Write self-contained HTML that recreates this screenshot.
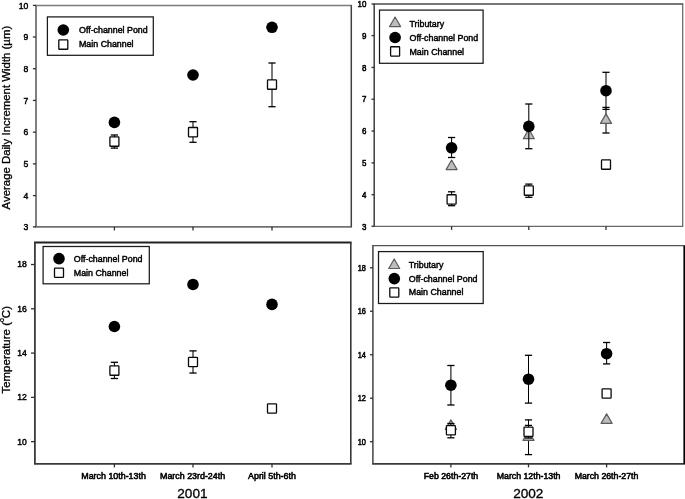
<!DOCTYPE html>
<html><head><meta charset="utf-8"><title>Figure</title>
<style>
html,body{margin:0;padding:0;background:#fff;}
svg{display:block;font-family:"Liberation Sans", Arial, sans-serif;fill:#000;filter:blur(0.35px);}
text{stroke:#000;stroke-width:0.45px;stroke-linejoin:round;}
text.big{stroke-width:0.32px;}
text.tk{stroke-width:0.55px;}
</style></head>
<body>
<svg width="685" height="499" viewBox="0 0 685 499">
<rect x="0" y="0" width="685" height="499" fill="#fff" stroke="none"/>
<line x1="35.20" y1="5.40" x2="352.05" y2="5.40" stroke="#7c7c7c" stroke-width="1.5"/>
<line x1="35.20" y1="226.85" x2="352.05" y2="226.85" stroke="#707070" stroke-width="1.6"/>
<line x1="36.00" y1="5.40" x2="36.00" y2="226.85" stroke="#606060" stroke-width="1.6"/>
<line x1="351.30" y1="5.40" x2="351.30" y2="226.85" stroke="#404040" stroke-width="1.5"/>
<line x1="32.90" y1="226.85" x2="36.00" y2="226.85" stroke="#303030" stroke-width="1.3"/>
<text x="28.40" y="229.95" font-size="8.6" text-anchor="end">3</text>
<line x1="32.90" y1="195.60" x2="36.00" y2="195.60" stroke="#303030" stroke-width="1.3"/>
<text x="28.40" y="198.70" font-size="8.6" text-anchor="end">4</text>
<line x1="32.90" y1="163.88" x2="36.00" y2="163.88" stroke="#303030" stroke-width="1.3"/>
<text x="28.40" y="166.98" font-size="8.6" text-anchor="end">5</text>
<line x1="32.90" y1="132.16" x2="36.00" y2="132.16" stroke="#303030" stroke-width="1.3"/>
<text x="28.40" y="135.26" font-size="8.6" text-anchor="end">6</text>
<line x1="32.90" y1="100.44" x2="36.00" y2="100.44" stroke="#303030" stroke-width="1.3"/>
<text x="28.40" y="103.54" font-size="8.6" text-anchor="end">7</text>
<line x1="32.90" y1="68.72" x2="36.00" y2="68.72" stroke="#303030" stroke-width="1.3"/>
<text x="28.40" y="71.82" font-size="8.6" text-anchor="end">8</text>
<line x1="32.90" y1="37.00" x2="36.00" y2="37.00" stroke="#303030" stroke-width="1.3"/>
<text x="28.40" y="40.10" font-size="8.6" text-anchor="end">9</text>
<line x1="32.90" y1="5.40" x2="36.00" y2="5.40" stroke="#303030" stroke-width="1.3"/>
<text x="28.40" y="8.50" font-size="8.6" text-anchor="end">10</text>
<line x1="114.40" y1="226.85" x2="114.40" y2="230.45" stroke="#303030" stroke-width="1.3"/>
<line x1="193.00" y1="226.85" x2="193.00" y2="230.45" stroke="#303030" stroke-width="1.3"/>
<line x1="272.00" y1="226.85" x2="272.00" y2="230.45" stroke="#303030" stroke-width="1.3"/>
<rect x="47.40" y="16.90" width="105.90" height="38.40" fill="none" stroke="#1a1a1a" stroke-width="1.25" />
<circle cx="63.30" cy="30.00" r="5.8" fill="#000"/>
<rect x="58.80" y="39.95" width="9.00" height="9.30" fill="#fff" stroke="#0a0a0a" stroke-width="1.3" rx="0.6"/>
<text x="79.00" y="33.00" font-size="8.85" text-anchor="start">Off-channel Pond</text>
<text x="79.00" y="47.30" font-size="8.85" text-anchor="start">Main Channel</text>
<line x1="114.40" y1="135.00" x2="114.40" y2="148.10" stroke="#000" stroke-width="1.05"/>
<line x1="110.80" y1="135.00" x2="118.00" y2="135.00" stroke="#000" stroke-width="1.3"/>
<line x1="110.80" y1="148.10" x2="118.00" y2="148.10" stroke="#000" stroke-width="1.3"/>
<rect x="109.90" y="136.95" width="9.00" height="9.30" fill="#fff" stroke="#0a0a0a" stroke-width="1.3" rx="0.6"/>
<line x1="193.00" y1="121.69" x2="193.00" y2="142.31" stroke="#000" stroke-width="1.05"/>
<line x1="189.40" y1="121.69" x2="196.60" y2="121.69" stroke="#000" stroke-width="1.3"/>
<line x1="189.40" y1="142.31" x2="196.60" y2="142.31" stroke="#000" stroke-width="1.3"/>
<rect x="188.50" y="127.51" width="9.00" height="9.30" fill="#fff" stroke="#0a0a0a" stroke-width="1.3" rx="0.6"/>
<line x1="272.00" y1="63.00" x2="272.00" y2="106.70" stroke="#000" stroke-width="1.05"/>
<line x1="268.40" y1="63.00" x2="275.60" y2="63.00" stroke="#000" stroke-width="1.3"/>
<line x1="268.40" y1="106.70" x2="275.60" y2="106.70" stroke="#000" stroke-width="1.3"/>
<rect x="267.50" y="79.95" width="9.00" height="9.30" fill="#fff" stroke="#0a0a0a" stroke-width="1.3" rx="0.6"/>
<circle cx="114.40" cy="122.40" r="5.8" fill="#000"/>
<circle cx="193.00" cy="75.00" r="5.8" fill="#000"/>
<circle cx="272.00" cy="27.30" r="5.8" fill="#000"/>
<line x1="373.40" y1="4.00" x2="683.33" y2="4.00" stroke="#4a4a4a" stroke-width="1.6"/>
<line x1="373.40" y1="226.30" x2="683.33" y2="226.30" stroke="#686868" stroke-width="1.25"/>
<line x1="374.20" y1="4.00" x2="374.20" y2="226.30" stroke="#484848" stroke-width="1.6"/>
<line x1="682.70" y1="4.00" x2="682.70" y2="226.30" stroke="#686868" stroke-width="1.25"/>
<line x1="371.50" y1="226.30" x2="374.20" y2="226.30" stroke="#303030" stroke-width="1.3"/>
<text transform="translate(366.50,229.50) scale(0.86,1)" font-size="9.3" text-anchor="end" class="tk">3</text>
<line x1="371.50" y1="194.70" x2="374.20" y2="194.70" stroke="#303030" stroke-width="1.3"/>
<text transform="translate(366.50,197.90) scale(0.86,1)" font-size="9.3" text-anchor="end" class="tk">4</text>
<line x1="371.50" y1="162.88" x2="374.20" y2="162.88" stroke="#303030" stroke-width="1.3"/>
<text transform="translate(366.50,166.08) scale(0.86,1)" font-size="9.3" text-anchor="end" class="tk">5</text>
<line x1="371.50" y1="131.06" x2="374.20" y2="131.06" stroke="#303030" stroke-width="1.3"/>
<text transform="translate(366.50,134.26) scale(0.86,1)" font-size="9.3" text-anchor="end" class="tk">6</text>
<line x1="371.50" y1="99.24" x2="374.20" y2="99.24" stroke="#303030" stroke-width="1.3"/>
<text transform="translate(366.50,102.44) scale(0.86,1)" font-size="9.3" text-anchor="end" class="tk">7</text>
<line x1="371.50" y1="67.42" x2="374.20" y2="67.42" stroke="#303030" stroke-width="1.3"/>
<text transform="translate(366.50,70.62) scale(0.86,1)" font-size="9.3" text-anchor="end" class="tk">8</text>
<line x1="371.50" y1="35.60" x2="374.20" y2="35.60" stroke="#303030" stroke-width="1.3"/>
<text transform="translate(366.50,38.80) scale(0.86,1)" font-size="9.3" text-anchor="end" class="tk">9</text>
<line x1="371.50" y1="4.00" x2="374.20" y2="4.00" stroke="#303030" stroke-width="1.3"/>
<text transform="translate(366.50,7.20) scale(0.86,1)" font-size="9.3" text-anchor="end" class="tk">10</text>
<line x1="451.60" y1="226.30" x2="451.60" y2="229.90" stroke="#303030" stroke-width="1.3"/>
<line x1="528.80" y1="226.30" x2="528.80" y2="229.90" stroke="#303030" stroke-width="1.3"/>
<line x1="606.00" y1="226.30" x2="606.00" y2="229.90" stroke="#303030" stroke-width="1.3"/>
<rect x="379.50" y="10.10" width="103.60" height="53.20" fill="none" stroke="#1a1a1a" stroke-width="1.25" />
<polygon points="395.10,17.05 389.60,26.58 400.60,26.58" fill="#bdbdbd" stroke="#5c5c5c" stroke-width="1.2" stroke-linejoin="round"/>
<circle cx="395.10" cy="37.50" r="5.8" fill="#000"/>
<rect x="390.60" y="46.75" width="9.00" height="9.30" fill="#fff" stroke="#0a0a0a" stroke-width="1.3" rx="0.6"/>
<text x="409.50" y="26.90" font-size="8.85" text-anchor="start">Tributary</text>
<text x="409.50" y="40.90" font-size="8.85" text-anchor="start">Off-channel Pond</text>
<text x="409.50" y="54.70" font-size="8.85" text-anchor="start">Main Channel</text>
<line x1="451.60" y1="191.80" x2="451.60" y2="205.70" stroke="#000" stroke-width="1.05"/>
<line x1="448.00" y1="191.80" x2="455.20" y2="191.80" stroke="#000" stroke-width="1.3"/>
<line x1="448.00" y1="205.70" x2="455.20" y2="205.70" stroke="#000" stroke-width="1.3"/>
<rect x="447.10" y="194.75" width="9.00" height="9.30" fill="#fff" stroke="#0a0a0a" stroke-width="1.3" rx="0.6"/>
<polygon points="451.60,160.05 446.10,169.58 457.10,169.58" fill="#bdbdbd" stroke="#5c5c5c" stroke-width="1.2" stroke-linejoin="round"/>
<line x1="451.60" y1="137.50" x2="451.60" y2="157.50" stroke="#000" stroke-width="1.05"/>
<line x1="448.00" y1="137.50" x2="455.20" y2="137.50" stroke="#000" stroke-width="1.3"/>
<line x1="448.00" y1="157.50" x2="455.20" y2="157.50" stroke="#000" stroke-width="1.3"/>
<circle cx="451.60" cy="147.80" r="5.8" fill="#000"/>
<line x1="528.80" y1="184.10" x2="528.80" y2="197.30" stroke="#000" stroke-width="1.05"/>
<line x1="525.20" y1="184.10" x2="532.40" y2="184.10" stroke="#000" stroke-width="1.3"/>
<line x1="525.20" y1="197.30" x2="532.40" y2="197.30" stroke="#000" stroke-width="1.3"/>
<rect x="524.30" y="185.95" width="9.00" height="9.30" fill="#fff" stroke="#0a0a0a" stroke-width="1.3" rx="0.6"/>
<polygon points="528.80,129.15 523.30,138.68 534.30,138.68" fill="#bdbdbd" stroke="#5c5c5c" stroke-width="1.2" stroke-linejoin="round"/>
<line x1="528.80" y1="104.00" x2="528.80" y2="148.70" stroke="#000" stroke-width="1.05"/>
<line x1="525.20" y1="104.00" x2="532.40" y2="104.00" stroke="#000" stroke-width="1.3"/>
<line x1="525.20" y1="148.70" x2="532.40" y2="148.70" stroke="#000" stroke-width="1.3"/>
<circle cx="528.80" cy="126.40" r="5.8" fill="#000"/>
<rect x="601.50" y="159.95" width="9.00" height="9.30" fill="#fff" stroke="#0a0a0a" stroke-width="1.3" rx="0.6"/>
<line x1="606.00" y1="107.40" x2="606.00" y2="133.00" stroke="#000" stroke-width="1.05"/>
<line x1="602.40" y1="107.40" x2="609.60" y2="107.40" stroke="#000" stroke-width="1.3"/>
<line x1="602.40" y1="133.00" x2="609.60" y2="133.00" stroke="#000" stroke-width="1.3"/>
<polygon points="606.00,113.85 600.50,123.38 611.50,123.38" fill="#bdbdbd" stroke="#5c5c5c" stroke-width="1.2" stroke-linejoin="round"/>
<line x1="606.00" y1="72.30" x2="606.00" y2="109.40" stroke="#000" stroke-width="1.05"/>
<line x1="602.40" y1="72.30" x2="609.60" y2="72.30" stroke="#000" stroke-width="1.3"/>
<line x1="602.40" y1="109.40" x2="609.60" y2="109.40" stroke="#000" stroke-width="1.3"/>
<circle cx="606.00" cy="90.70" r="5.8" fill="#000"/>
<line x1="34.00" y1="242.50" x2="351.60" y2="242.50" stroke="#222" stroke-width="1.8"/>
<line x1="34.00" y1="463.80" x2="351.60" y2="463.80" stroke="#3a3a3a" stroke-width="1.7"/>
<line x1="34.90" y1="242.50" x2="34.90" y2="463.80" stroke="#3a3a3a" stroke-width="1.8"/>
<line x1="350.80" y1="242.50" x2="350.80" y2="463.80" stroke="#383838" stroke-width="1.6"/>
<line x1="31.00" y1="441.65" x2="34.90" y2="441.65" stroke="#303030" stroke-width="1.3"/>
<text x="26.90" y="444.60" font-size="8.6" text-anchor="end">10</text>
<line x1="31.00" y1="397.37" x2="34.90" y2="397.37" stroke="#303030" stroke-width="1.3"/>
<text x="26.90" y="400.32" font-size="8.6" text-anchor="end">12</text>
<line x1="31.00" y1="353.09" x2="34.90" y2="353.09" stroke="#303030" stroke-width="1.3"/>
<text x="26.90" y="356.04" font-size="8.6" text-anchor="end">14</text>
<line x1="31.00" y1="308.81" x2="34.90" y2="308.81" stroke="#303030" stroke-width="1.3"/>
<text x="26.90" y="311.76" font-size="8.6" text-anchor="end">16</text>
<line x1="31.00" y1="264.53" x2="34.90" y2="264.53" stroke="#303030" stroke-width="1.3"/>
<text x="26.90" y="267.48" font-size="8.6" text-anchor="end">18</text>
<line x1="114.40" y1="463.80" x2="114.40" y2="467.40" stroke="#303030" stroke-width="1.3"/>
<line x1="193.00" y1="463.80" x2="193.00" y2="467.40" stroke="#303030" stroke-width="1.3"/>
<line x1="272.00" y1="463.80" x2="272.00" y2="467.40" stroke="#303030" stroke-width="1.3"/>
<rect x="43.10" y="246.50" width="106.20" height="37.30" fill="none" stroke="#1a1a1a" stroke-width="1.25" />
<circle cx="59.00" cy="258.60" r="5.8" fill="#000"/>
<rect x="54.50" y="268.05" width="9.00" height="9.30" fill="#fff" stroke="#0a0a0a" stroke-width="1.3" rx="0.6"/>
<text x="73.80" y="261.60" font-size="8.85" text-anchor="start">Off-channel Pond</text>
<text x="73.80" y="275.80" font-size="8.85" text-anchor="start">Main Channel</text>
<line x1="114.40" y1="362.30" x2="114.40" y2="378.50" stroke="#000" stroke-width="1.05"/>
<line x1="110.80" y1="362.30" x2="118.00" y2="362.30" stroke="#000" stroke-width="1.3"/>
<line x1="110.80" y1="378.50" x2="118.00" y2="378.50" stroke="#000" stroke-width="1.3"/>
<rect x="109.90" y="365.95" width="9.00" height="9.30" fill="#fff" stroke="#0a0a0a" stroke-width="1.3" rx="0.6"/>
<line x1="193.00" y1="350.88" x2="193.00" y2="373.02" stroke="#000" stroke-width="1.05"/>
<line x1="189.40" y1="350.88" x2="196.60" y2="350.88" stroke="#000" stroke-width="1.3"/>
<line x1="189.40" y1="373.02" x2="196.60" y2="373.02" stroke="#000" stroke-width="1.3"/>
<rect x="188.50" y="357.30" width="9.00" height="9.30" fill="#fff" stroke="#0a0a0a" stroke-width="1.3" rx="0.6"/>
<rect x="267.50" y="403.79" width="9.00" height="9.30" fill="#fff" stroke="#0a0a0a" stroke-width="1.3" rx="0.6"/>
<circle cx="114.40" cy="326.52" r="5.8" fill="#000"/>
<circle cx="193.00" cy="284.46" r="5.8" fill="#000"/>
<circle cx="272.00" cy="304.38" r="5.8" fill="#000"/>
<line x1="372.15" y1="245.70" x2="685.40" y2="245.70" stroke="#555" stroke-width="1.25"/>
<line x1="372.15" y1="463.80" x2="685.40" y2="463.80" stroke="#3a3a3a" stroke-width="1.7"/>
<line x1="372.90" y1="245.70" x2="372.90" y2="463.80" stroke="#444" stroke-width="1.5"/>
<line x1="684.40" y1="245.70" x2="684.40" y2="463.80" stroke="#000" stroke-width="2.0"/>
<line x1="370.00" y1="441.70" x2="372.90" y2="441.70" stroke="#303030" stroke-width="1.3"/>
<text transform="translate(365.90,444.80) scale(0.86,1)" font-size="8.6" text-anchor="end" class="tk">10</text>
<line x1="370.00" y1="398.22" x2="372.90" y2="398.22" stroke="#303030" stroke-width="1.3"/>
<text transform="translate(365.90,401.32) scale(0.86,1)" font-size="8.6" text-anchor="end" class="tk">12</text>
<line x1="370.00" y1="354.74" x2="372.90" y2="354.74" stroke="#303030" stroke-width="1.3"/>
<text transform="translate(365.90,357.84) scale(0.86,1)" font-size="8.6" text-anchor="end" class="tk">14</text>
<line x1="370.00" y1="311.26" x2="372.90" y2="311.26" stroke="#303030" stroke-width="1.3"/>
<text transform="translate(365.90,314.36) scale(0.86,1)" font-size="8.6" text-anchor="end" class="tk">16</text>
<line x1="370.00" y1="267.78" x2="372.90" y2="267.78" stroke="#303030" stroke-width="1.3"/>
<text transform="translate(365.90,270.88) scale(0.86,1)" font-size="8.6" text-anchor="end" class="tk">18</text>
<line x1="450.90" y1="463.80" x2="450.90" y2="467.40" stroke="#303030" stroke-width="1.3"/>
<line x1="528.50" y1="463.80" x2="528.50" y2="467.40" stroke="#303030" stroke-width="1.3"/>
<line x1="606.60" y1="463.80" x2="606.60" y2="467.40" stroke="#303030" stroke-width="1.3"/>
<rect x="378.50" y="251.60" width="104.70" height="51.90" fill="none" stroke="#1a1a1a" stroke-width="1.25" />
<polygon points="394.20,258.95 388.70,268.48 399.70,268.48" fill="#bdbdbd" stroke="#5c5c5c" stroke-width="1.2" stroke-linejoin="round"/>
<circle cx="394.30" cy="278.60" r="5.8" fill="#000"/>
<rect x="389.80" y="287.85" width="9.00" height="9.30" fill="#fff" stroke="#0a0a0a" stroke-width="1.3" rx="0.6"/>
<text x="408.80" y="268.30" font-size="8.85" text-anchor="start">Tributary</text>
<text x="408.80" y="282.20" font-size="8.85" text-anchor="start">Off-channel Pond</text>
<text x="408.80" y="294.70" font-size="8.85" text-anchor="start">Main Channel</text>
<polygon points="450.90,419.85 445.40,429.38 456.40,429.38" fill="#bdbdbd" stroke="#5c5c5c" stroke-width="1.2" stroke-linejoin="round"/>
<line x1="450.90" y1="423.50" x2="450.90" y2="437.80" stroke="#000" stroke-width="1.05"/>
<line x1="447.30" y1="423.50" x2="454.50" y2="423.50" stroke="#000" stroke-width="1.3"/>
<line x1="447.30" y1="437.80" x2="454.50" y2="437.80" stroke="#000" stroke-width="1.3"/>
<rect x="446.40" y="425.55" width="9.00" height="9.30" fill="#fff" stroke="#0a0a0a" stroke-width="1.3" rx="0.6"/>
<line x1="450.90" y1="365.50" x2="450.90" y2="405.00" stroke="#000" stroke-width="1.05"/>
<line x1="447.30" y1="365.50" x2="454.50" y2="365.50" stroke="#000" stroke-width="1.3"/>
<line x1="447.30" y1="405.00" x2="454.50" y2="405.00" stroke="#000" stroke-width="1.3"/>
<circle cx="450.90" cy="385.20" r="5.8" fill="#000"/>
<line x1="528.50" y1="419.90" x2="528.50" y2="454.60" stroke="#000" stroke-width="1.05"/>
<line x1="524.90" y1="419.90" x2="532.10" y2="419.90" stroke="#000" stroke-width="1.3"/>
<line x1="524.90" y1="454.60" x2="532.10" y2="454.60" stroke="#000" stroke-width="1.3"/>
<polygon points="528.50,430.85 523.00,440.38 534.00,440.38" fill="#bdbdbd" stroke="#5c5c5c" stroke-width="1.2" stroke-linejoin="round"/>
<line x1="528.50" y1="425.40" x2="528.50" y2="438.00" stroke="#000" stroke-width="1.05"/>
<line x1="524.90" y1="425.40" x2="532.10" y2="425.40" stroke="#000" stroke-width="1.3"/>
<line x1="524.90" y1="438.00" x2="532.10" y2="438.00" stroke="#000" stroke-width="1.3"/>
<rect x="524.00" y="427.05" width="9.00" height="9.30" fill="#fff" stroke="#0a0a0a" stroke-width="1.3" rx="0.6"/>
<line x1="528.50" y1="355.30" x2="528.50" y2="403.10" stroke="#000" stroke-width="1.05"/>
<line x1="524.90" y1="355.30" x2="532.10" y2="355.30" stroke="#000" stroke-width="1.3"/>
<line x1="524.90" y1="403.10" x2="532.10" y2="403.10" stroke="#000" stroke-width="1.3"/>
<circle cx="528.50" cy="379.20" r="5.8" fill="#000"/>
<polygon points="606.60,413.85 601.10,423.38 612.10,423.38" fill="#bdbdbd" stroke="#5c5c5c" stroke-width="1.2" stroke-linejoin="round"/>
<rect x="602.10" y="388.85" width="9.00" height="9.30" fill="#fff" stroke="#0a0a0a" stroke-width="1.3" rx="0.6"/>
<line x1="606.60" y1="342.50" x2="606.60" y2="363.90" stroke="#000" stroke-width="1.05"/>
<line x1="603.00" y1="342.50" x2="610.20" y2="342.50" stroke="#000" stroke-width="1.3"/>
<line x1="603.00" y1="363.90" x2="610.20" y2="363.90" stroke="#000" stroke-width="1.3"/>
<circle cx="606.60" cy="353.70" r="5.8" fill="#000"/>
<text x="113.60" y="479.30" font-size="8.9" text-anchor="middle" class="tk">March 10th-13th</text>
<text x="192.60" y="479.30" font-size="8.9" text-anchor="middle" class="tk">March 23rd-24th</text>
<text x="272.00" y="479.30" font-size="8.9" text-anchor="middle" class="tk">April 5th-6th</text>
<text x="451.00" y="479.30" font-size="8.75" text-anchor="middle" class="tk">Feb 26th-27th</text>
<text x="528.60" y="479.30" font-size="8.75" text-anchor="middle" class="tk">March 12th-13th</text>
<text x="606.50" y="479.30" font-size="8.75" text-anchor="middle" class="tk">March 26th-27th</text>
<text x="192.40" y="498.10" font-size="13.6" text-anchor="middle" class="big">2001</text>
<text x="528.30" y="498.10" font-size="13.6" text-anchor="middle" class="big">2002</text>
<text class="big" transform="translate(10.1,117.6) rotate(-90)" font-size="11.4" text-anchor="middle">Average Daily Increment Width (µm)</text>
<text class="big" transform="translate(9.6,349.8) rotate(-90)" font-size="11.5" text-anchor="middle">Temperature (<tspan font-size="7" dy="-5.2">o</tspan><tspan dy="5.2">C)</tspan></text>
</svg>
</body></html>
